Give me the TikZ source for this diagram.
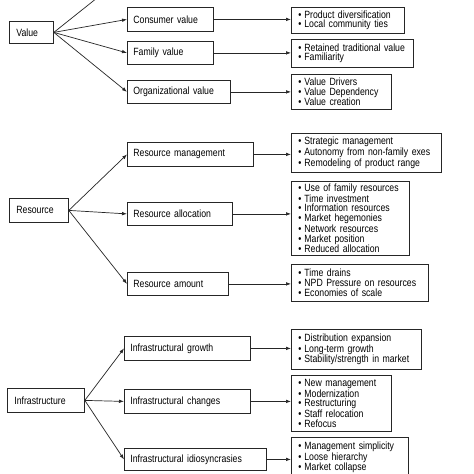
\documentclass[tikz,border=0pt]{standalone}
\usepackage{fontspec}
\setmainfont{Liberation Sans}[FakeStretch=0.83]
\usetikzlibrary{arrows.meta}
\newcommand{\bl}[1]{\mbox{\makebox[6pt][l]{\textbullet}#1}}
\begin{document}
\begin{tikzpicture}[x=1pt,y=-1pt,
  txt/.style={font=\fontsize{10.5pt}{9.7pt}\selectfont, text=black},
  box/.style={txt, draw=black!85, line width=0.8pt, anchor=north west, align=left, inner ysep=0pt},
  mainbox/.style={box, inner xsep=7pt},
  subbox/.style={box, inner xsep=6pt},
  detbox/.style={box, inner xsep=7pt},
  arr/.style={draw=black!85, line width=0.7pt, -{Latex[length=5pt,width=3.6pt]}},
  ln/.style={draw=black!85, line width=0.7pt}]
\clip (0,0) rectangle (474,474);
\fill[white] (0,0) rectangle (474,474);

% main boxes
\node[mainbox, text width=30pt, minimum height=22pt] (val) at (9,21) {Value};
\node[mainbox, text width=45pt, minimum height=24pt] (res) at (9,198) {Resource};
\node[mainbox, text width=63pt, minimum height=24pt] (inf) at (7,388) {Infrastructure};

% sub boxes
\node[subbox, text width=74pt, minimum height=24pt] (cv) at (127,7) {Consumer value};
\node[subbox, text width=74pt, minimum height=23pt] (fv) at (127,41) {Family value};
\node[subbox, text width=91pt, minimum height=23pt] (ov) at (127,80) {Organizational value};
\node[subbox, text width=114pt, minimum height=24pt] (rm) at (127,142) {Resource management};
\node[subbox, text width=93pt, minimum height=23pt] (ra) at (127,202) {Resource allocation};
\node[subbox, text width=89pt, minimum height=23pt] (ram) at (127,272) {Resource amount};
\node[subbox, text width=114pt, minimum height=24pt] (ig) at (124,336) {Infrastructural growth};
\node[subbox, text width=114pt, minimum height=24pt] (ic) at (124,389) {Infrastructural changes};
\node[subbox, text width=130pt, minimum height=22pt] (ii) at (124,448) {Infrastructural idiosyncrasies};

% detail boxes
\node[detbox, text width=99pt, minimum height=26pt] (d1) at (291,7) {\bl{Product diversification}\\\bl{Local community ties}};
\node[detbox, text width=108pt, minimum height=28pt] (d2) at (291,39) {\bl{Retained traditional value}\\\bl{Familiarity}};
\node[detbox, text width=86pt, minimum height=35pt] (d3) at (291,74) {\bl{Value Drivers}\\\bl{Value Dependency}\\\bl{Value creation}};
\node[detbox, text width=136pt, minimum height=39pt] (d4) at (291,133) {\bl{Strategic management}\\\bl{Autonomy from non-family exes}\\\bl{Remodeling of product range}};
\node[detbox, text width=104pt, minimum height=74pt] (d5) at (291,181) {\bl{Use of family resources}\\\bl{Time investment}\\\bl{Information resources}\\\bl{Market hegemonies}\\\bl{Network resources}\\\bl{Market position}\\\bl{Reduced allocation}};
\node[detbox, text width=123pt, minimum height=37pt] (d6) at (291,264) {\bl{Time drains}\\\bl{NPD Pressure on resources}\\\bl{Economies of scale}};
\node[detbox, text width=116pt, minimum height=40pt] (d7) at (291,329) {\bl{Distribution expansion}\\\bl{Long-term growth}\\\bl{Stability/strength in market}};
\node[detbox, text width=86pt, minimum height=56pt] (d8) at (291,375) {\bl{New management}\\\bl{Modernization}\\\bl{Restructuring}\\\bl{Staff relocation}\\\bl{Refocus}};
\node[detbox, text width=103pt, minimum height=40pt] (d9) at (291,437) {\bl{Management simplicity}\\\bl{Loose hierarchy}\\\bl{Market collapse}};

% cut-off connector at top
\coordinate (up) at (97,-2);
\draw[ln] (val.east) -- (up);

% main to sub
\draw[arr] (val.east) -- (cv.west);
\draw[arr] (val.east) -- (fv.west);
\draw[arr] (val.east) -- (ov.west);
\draw[arr] (res.east) -- (rm.west);
\draw[arr] (res.east) -- (ra.west);
\draw[arr] (res.east) -- (ram.west);
\draw[arr] (inf.east) -- (ig.west);
\draw[arr] (inf.east) -- (ic.west);
\draw[arr] (inf.east) -- (ii.west);

% sub to detail
\draw[arr] (cv.east) -- (cv.east -| d1.west);
\draw[arr] (fv.east) -- (fv.east -| d2.west);
\draw[arr] (ov.east) -- (ov.east -| d3.west);
\draw[arr] (rm.east) -- (rm.east -| d4.west);
\draw[arr] (ra.east) -- (ra.east -| d5.west);
\draw[arr] (ram.east) -- (ram.east -| d6.west);
\draw[arr] (ig.east) -- (ig.east -| d7.west);
\draw[arr] (ic.east) -- (ic.east -| d8.west);
\draw[arr] (ii.east) -- (ii.east -| d9.west);
\end{tikzpicture}
\end{document}
